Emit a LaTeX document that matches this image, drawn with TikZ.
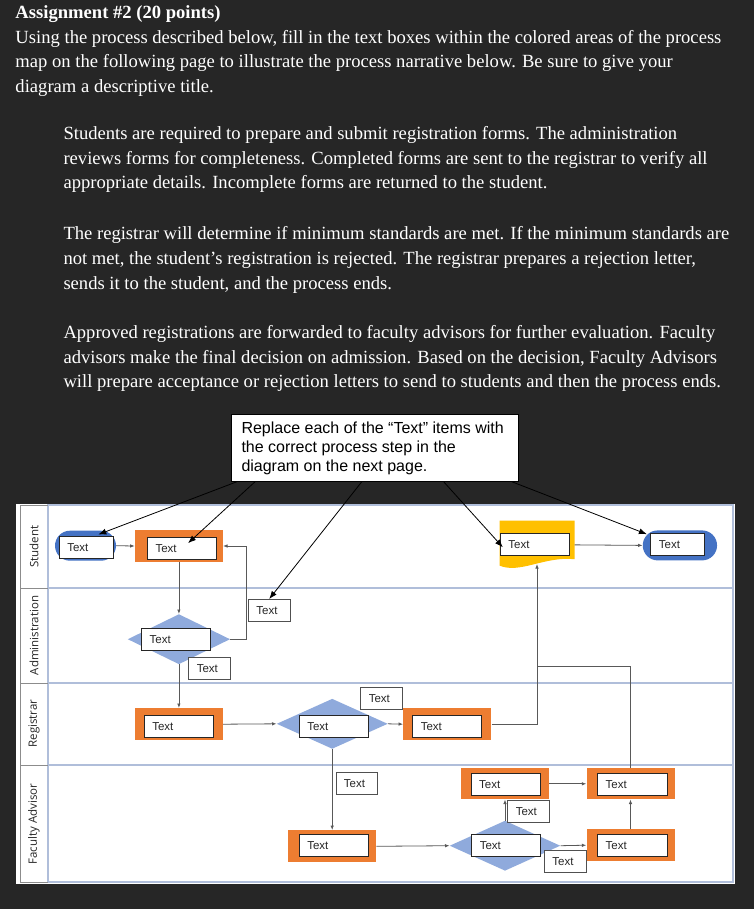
\documentclass[tikz,border=0pt]{standalone}
\usepackage{fontspec}
\setmainfont{Liberation Serif}
\newfontfamily\arialfont{Liberation Sans}
\newfontfamily\lanefont{Open Sans}
\usepackage{tikz}
\usetikzlibrary{
  arrows.meta,
  shapes.geometric}
\definecolor{pagebg}{HTML}{262626}
\definecolor{procorange}{HTML}{ED7D31}
\definecolor{termblue}{HTML}{4472C4}
\definecolor{decblue}{HTML}{8FAADC}
\definecolor{docyellow}{HTML}{FFC000}
\definecolor{laneblue}{HTML}{B0BEDA}
\definecolor{colgray}{HTML}{8C8C8C}
\definecolor{flowgray}{HTML}{595959}
\definecolor{boxline}{HTML}{262626}
\definecolor{lblline}{HTML}{505050}

\begin{document}
\begin{tikzpicture}[x=1pt,y=-1pt,
  prose/.style={anchor=base west,inner sep=0pt,text=white,font=\fontsize{18.6}{22}\selectfont},
  calltxt/.style={anchor=base west,inner sep=0pt,font=\arialfont\fontsize{16}{19}\selectfont},
  lanelbl/.style={rotate=90,inner sep=0pt,text=black!85,font=\lanefont\fontsize{11.5}{13}\selectfont},
  proc/.style={fill=procorange,inner sep=0pt,minimum width=88pt,minimum height=32pt},
  term/.style={fill=termblue,inner sep=0pt,rounded corners=15pt,minimum height=30pt},
  dec/.style={diamond,fill=decblue,inner sep=0pt,minimum height=50pt},
  inbox/.style={draw=boxline,line width=1.1pt,fill=white,inner xsep=8pt,inner ysep=0pt,
    text width=#1,minimum height=22pt,align=left,text=black!85,font=\arialfont\fontsize{11.5}{13}\selectfont},
  inbox/.default=53pt,
  lbl/.style={inbox=25.5pt,draw=lblline,line width=0.8pt,minimum height=21.7pt},
  flow/.style={draw=flowgray,line width=0.8pt,-{Latex[length=4.5pt,width=3.5pt]}},
  pointer/.style={draw=black,line width=0.8pt,-{Latex[length=8pt,width=6pt]}}]
\fill[pagebg] (0,0) rectangle (754,909);
\useasboundingbox (0,0) rectangle (754,909);

% narrative
\node[prose] (title) at (15.3,18.5) {\bfseries Assignment \#2 (20 points)};
\foreach \ln [count=\i] in {
  {Using the process described below, fill in the text boxes within the colored areas of the process},
  {map on the following page to illustrate the process narrative below. Be sure to give your},
  {diagram a descriptive title.}}
  \node[prose] (intro-\i) at (15.3,18.5+24.6*\i) {\ln};
\foreach \ln/\y [count=\i] in {
  {Students are required to prepare and submit registration forms. The administration}/140,
  {reviews forms for completeness. Completed forms are sent to the registrar to verify all}/164.5,
  {appropriate details. Incomplete forms are returned to the student.}/189,
  {The registrar will determine if minimum standards are met. If the minimum standards are}/240,
  {not met, the student’s registration is rejected. The registrar prepares a rejection letter,}/264.5,
  {sends it to the student, and the process ends.}/289,
  {Approved registrations are forwarded to faculty advisors for further evaluation. Faculty}/338.5,
  {advisors make the final decision on admission. Based on the decision, Faculty Advisors}/363,
  {will prepare acceptance or rejection letters to send to students and then the process ends.}/387.5}
  \node[prose] (narr-\i) at (63.3,\y) {\ln};

% lanes
\fill[white] (16,504) rectangle (735,884);
\draw[laneblue,line width=1.2pt] (48,505) -- (733,505) -- (733,882) -- (48,882) -- cycle;
\foreach \y in {588,683,765}
  \draw[laneblue,line width=1.2pt] (48,\y) -- (733,\y);
\draw[colgray,line width=1pt] (48,505) -- (20,505) -- (20,882) -- (48,882);
\foreach \y in {588,683,765}
  \draw[colgray,line width=1pt] (20,\y) -- (48,\y);
\foreach \nm/\y [count=\i] in {Student/546.5,Administration/635.5,Registrar/723.5,Faculty Advisor/824}
  \node[lanelbl] (lane-\i) at (34,\y) {\nm};

% shapes
\node[term,minimum width=61pt] (start) at (85.5,545.7) {};
\node[proc] (p1) at (178.9,546) {};
\node[inner sep=0pt,minimum width=74.6pt,minimum height=48.3pt] (doc) at (537,544.85) {};
\fill[docyellow] (doc.north west) -- (doc.north east) -- ([yshift=10pt]doc.south east)
  .. controls (545,556) and (520,574) .. (499.7,565.7) -- cycle;
\node[term,minimum width=74.3pt] (finish) at (679.9,545.4) {};
\node[dec,minimum width=102.3pt] (d1) at (178.9,639.2) {};
\node[proc] (p2) at (178.9,724.2) {};
\node[dec,minimum width=111pt] (d2) at (332.2,723.8) {};
\node[proc] (p3) at (447.3,724.2) {};
\node[proc] (p4) at (332.2,846.3) {};
\node[dec,minimum width=110.6pt] (d3) at (505,845.7) {};
\node[proc,minimum height=31pt] (p5) at (505,783.8) {};
\node[proc,minimum height=31pt] (p6) at (630.5,783.8) {};
\node[proc,minimum height=31.7pt] (p7) at (630.5,845.2) {};
\coordinate (docbot) at (537,564);
\coordinate (join) at (537,666.7);

% flow
\draw[flow] (start.east) -- (p1.west);
\draw[flow] (p1.south) -- (d1.north);
\draw[flow] (d1.east) -- ++(15.7,0) |- (p1.east);
\draw[flow] (d1.south) -- (p2.north);
\draw[flow] (p2.east) -- (d2.west);
\draw[flow] (d2.east) -- (p3.west);
\draw[flow] (p3.east) -| (docbot);
\draw[flow] (doc.east) -- (finish.west);
\draw[flow] (d2.south) -- (p4.north);
\draw[flow] (p4.east) -- (d3.west);
\draw[flow] (d3.north) -- (p5.south);
\draw[flow] (p5.east) -- (p6.west);
\draw[flow] (d3.east) -- (p7.west);
\draw[flow] (p7.north) -- (p6.south);
\draw[draw=flowgray,line width=0.8pt] (p6.north) |- (join);

% text boxes
\node[inbox=38pt] (start-in) at (86.3,547.3) {Text};
\node[inbox] (p1-in) at (182,548.2) {Text};
\node[inbox] (doc-in) at (534.9,544.3) {Text};
\node[inbox=38pt] (finish-in) at (677.9,544.3) {Text};
\node[inbox] (d1-in) at (176.2,639.7) {Text};
\node[inbox] (p2-in) at (178.8,726.3) {Text};
\node[inbox] (d2-in) at (333.8,726.2) {Text};
\node[inbox] (p3-in) at (447.3,726.3) {Text};
\node[inbox] (p4-in) at (333.8,845.7) {Text};
\node[inbox] (d3-in) at (506.3,845.7) {Text};
\node[inbox] (p5-in) at (505.7,784.3) {Text};
\node[inbox=54pt] (p6-in) at (632.7,784.3) {Text};
\node[inbox=54pt] (p7-in) at (632.7,845.7) {Text};
\node[lbl] (la-1) at (269.2,610.3) {Text};
\node[lbl] (la-2) at (209.5,668.5) {Text};
\node[lbl] (la-3) at (381.5,698.3) {Text};
\node[lbl] (la-4) at (356.7,783.5) {Text};
\node[lbl] (la-5) at (528.5,811.3) {Text};
\node[lbl] (la-6) at (565.2,861.5) {Text};

% callout
\node[draw=black,line width=0.8pt,fill=white,inner sep=0pt,minimum width=287pt,minimum height=67pt,anchor=north west] (call) at (231,414) {};
\foreach \ln [count=\i from 0] in {
  {Replace each of the “Text” items with},
  {the correct process step in the},
  {diagram on the next page.}}
  \node[calltxt] (call-\i) at (241.3,433.3+19*\i) {\ln};
\draw[pointer] ([xshift=5.7pt]call.south west) -- ([xshift=12.8pt,yshift=-4pt]start.north);
\draw[pointer] ([xshift=24pt]call.south west) -- ([xshift=6pt,yshift=5pt]p1-in.center);
\draw[pointer] ([xshift=130.7pt]call.south west) -- (la-1.north);
\draw[pointer] ([xshift=212.7pt]call.south west) -- ([xshift=3pt,yshift=-3pt]doc-in.west);
\draw[pointer] ([xshift=281pt]call.south west) -- ([xshift=-33pt,yshift=-4pt]finish.north);
\end{tikzpicture}
\end{document}
